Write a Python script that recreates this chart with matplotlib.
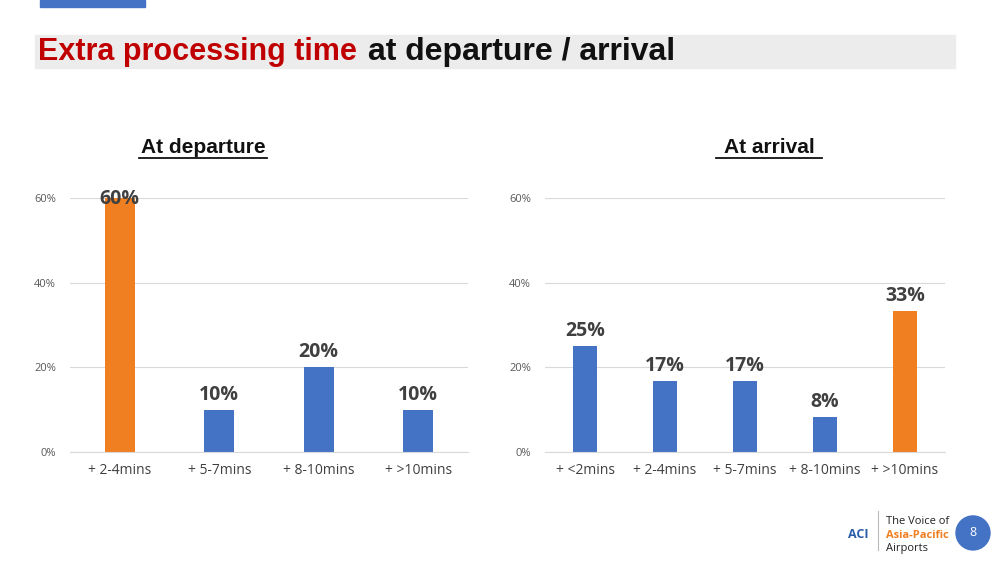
import matplotlib

matplotlib.use("Agg")
import matplotlib.pyplot as plt
from matplotlib.patches import Rectangle, Ellipse

plt.rcParams["font.family"] = ["Open Sans", "DejaVu Sans"]
HEAD = ["Liberation Sans", "DejaVu Sans"]

dep_labels = ["+ 2-4mins", "+ 5-7mins", "+ 8-10mins", "+ >10mins"]
dep_values = [60, 10, 20, 10]
dep_colors = ["#f07f22", "#4472c4", "#4472c4", "#4472c4"]

arr_labels = ["+ <2mins", "+ 2-4mins", "+ 5-7mins", "+ 8-10mins", "+ >10mins"]
arr_values = [25, 16.7, 16.7, 8.3, 33.3]
arr_colors = ["#4472c4", "#4472c4", "#4472c4", "#4472c4", "#f07f22"]

fig = plt.figure(figsize=(10, 5.61), dpi=100)

# header decorations
fig.patches.append(Rectangle((0.04, 0.988), 0.105, 0.012, transform=fig.transFigure,
                             color="#4472c4", zorder=0))
fig.patches.append(Rectangle((0.035, 0.879), 0.92, 0.059, transform=fig.transFigure,
                             color="#ececec", zorder=0))
fig.text(0.038, 0.907, "Extra processing time", color="#c00000", fontsize=22,
         fontweight="bold", va="center", family=HEAD)
fig.text(0.368, 0.907, "at departure / arrival", color="#111111", fontsize=23,
         fontweight="bold", va="center", family=HEAD)


def draw(rect, labels, values, colors, title, title_x):
    ax = fig.add_axes(rect)
    x = range(len(labels))
    ax.bar(x, values, width=0.3, color=colors, zorder=2)
    for xi, v in zip(x, values):
        ax.text(xi, min(v + 1.2, 57.5), f"{v:.0f}%", ha="center", va="bottom", fontsize=14,
                fontweight="bold", color="#404040", clip_on=False, zorder=3)
    ax.set_ylim(0, 60)
    ax.set_xlim(-0.5, len(labels) - 0.5)
    ax.set_yticks([0, 20, 40, 60])
    ax.set_yticklabels(["0%", "20%", "40%", "60%"], fontsize=8, color="#595959")
    ax.set_xticks(list(x))
    ax.set_xticklabels(labels, fontsize=10, color="#404040")
    ax.grid(axis="y", color="#d9d9d9", linewidth=0.8, zorder=0)
    for s in ["top", "right", "left"]:
        ax.spines[s].set_visible(False)
    ax.spines["bottom"].set_color("#d9d9d9")
    ax.tick_params(axis="y", length=0, pad=10)
    ax.tick_params(axis="x", length=0, pad=8)
    fig.text(title_x, 0.737, title, ha="center", va="center", fontsize=15,
             fontweight="bold", color="#111111", family=HEAD)
    half = len(title) * 0.0053
    fig.lines.append(plt.Line2D([title_x - half, title_x + half], [0.719, 0.719],
                                transform=fig.transFigure, color="#111111", linewidth=1.3))
    return ax


draw([0.07, 0.194, 0.398, 0.453], dep_labels, dep_values, dep_colors, "At departure", 0.203)
draw([0.545, 0.194, 0.40, 0.453], arr_labels, arr_values, arr_colors, "At arrival", 0.769)

# footer
fig.lines.append(plt.Line2D([0.878, 0.878], [0.02, 0.09], transform=fig.transFigure,
                            color="#bbbbbb", linewidth=0.8))
fig.text(0.886, 0.07, "The Voice of", fontsize=8, color="#222222", va="center")
fig.text(0.886, 0.046, "Asia-Pacific", fontsize=8, color="#f07f22", va="center",
         fontweight="bold")
fig.text(0.886, 0.022, "Airports", fontsize=8, color="#222222", va="center")
fig.text(0.858, 0.048, "ACI", fontsize=9, color="#2a5caa", fontweight="bold",
         ha="center", va="center")
fig.patches.append(Ellipse((0.973, 0.05), 0.034, 0.034 * 1000 / 561,
                           transform=fig.transFigure, color="#4472c4"))
fig.text(0.973, 0.05, "8", fontsize=9, color="white", ha="center", va="center")

fig.savefig("out.png")
